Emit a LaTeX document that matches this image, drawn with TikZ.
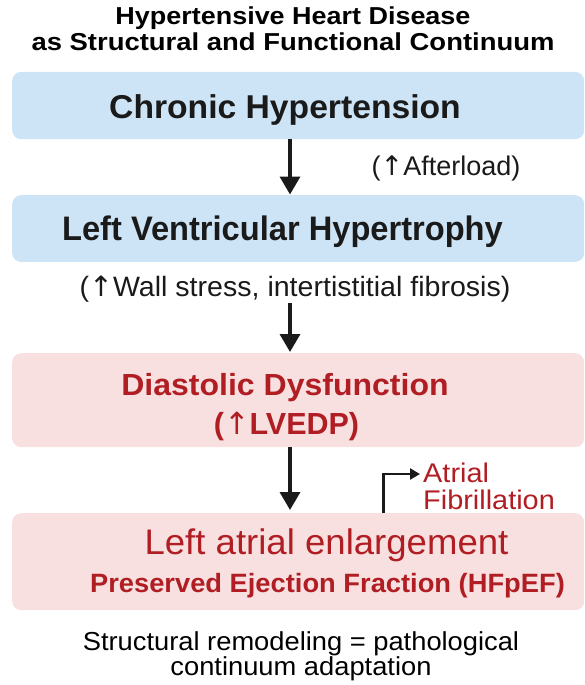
\documentclass[tikz,border=0pt]{standalone}
\usepackage{fontspec}
\setmainfont{Liberation Sans}
\newfontfamily\symfont{DejaVu Sans}
\usetikzlibrary{arrows.meta}
\definecolor{boxblue}{HTML}{CDE4F6}
\definecolor{boxpink}{HTML}{F9E0E0}
\definecolor{darkred}{HTML}{B01E24}
\definecolor{txtdark}{HTML}{1A1A1A}
\newcommand{\fs}[1]{\fontsize{#1pt}{#1pt}\selectfont}
\newcommand{\uarr}{{\symfont\mdseries\char"2191}}
\newcommand{\sx}[2]{\scalebox{#1}[1]{#2}}
\tikzset{
  x=1pt, y=-1pt,
  boxbase/.style={rounded corners=9pt, minimum width=572pt, inner sep=0pt, anchor=north west},
  bluebox/.style={boxbase, fill=boxblue},
  pinkbox/.style={boxbase, fill=boxpink},
  flow/.style={-{Triangle[length=18pt,width=20pt]}, line width=3.5pt, draw=txtdark},
  sideflow/.style={-{Triangle[length=10pt,width=11pt]}, line width=2.7pt, draw=txtdark},
  lbl/.style={inner sep=0pt, anchor=base, text=txtdark},
  redlbl/.style={lbl, text=darkred},
}
\begin{document}
\begin{tikzpicture}
\useasboundingbox (0,0) rectangle (585,685);
% title
\node[lbl, font=\bfseries\fs{24.5}, text=black] (title1) at (293,24.5) {\sx{1.1}{Hypertensive Heart Disease}};
\node[lbl, font=\bfseries\fs{24.5}, text=black] (title2) at (293,50.5) {\sx{1.12}{as Structural and Functional Continuum}};
% boxes
\node[bluebox, minimum height=67.3pt] (b1) at (12,71.7) {};
\node[lbl, font=\bfseries\fs{33}] (t1) at (285,118) {\sx{1.02}{Chronic Hypertension}};
\node[bluebox, minimum height=66.7pt] (b2) at (12,195) {};
\node[lbl, font=\bfseries\fs{34}] (t2) at (282.5,240) {\sx{0.96}{Left Ventricular Hypertrophy}};
\node[pinkbox, minimum height=94pt] (b3) at (12,353) {};
\node[redlbl, font=\bfseries\fs{30.5}] (t3) at (285,395) {\sx{1.05}{Diastolic Dysfunction}};
\node[redlbl, font=\bfseries\fs{30.5}] (t3b) at (286.5,434) {(\uarr LVEDP)};
\node[pinkbox, minimum height=97pt] (b4) at (12,513) {};
\node[redlbl, font=\fs{35.5}] (t4) at (326.5,554) {\sx{1.03}{Left atrial enlargement}};
\node[redlbl, font=\bfseries\fs{26.5}] (t5) at (327.5,592.3) {\sx{1.03}{Preserved Ejection Fraction (HFpEF)}};
% annotations
\node[lbl, font=\fs{27}] (a1) at (446,175) {(\uarr Afterload)};
\node[lbl, font=\fs{28}] (a2) at (295,296) {\sx{1.02}{(\uarr Wall stress, intertistitial fibrosis)}};
\node[redlbl, font=\fs{27}, anchor=base west] (af1) at (423,482.5) {\sx{1.07}{Atrial}};
\node[redlbl, font=\fs{27}, anchor=base west] (af2) at (423,509) {\sx{1.07}{Fibrillation}};
\node[lbl, font=\fs{26}, text=black] (foot1) at (301,650) {\sx{1.05}{Structural remodeling = pathological}};
\node[lbl, font=\fs{26}, text=black] (foot2) at (301,675) {\sx{1.05}{continuum adaptation}};
% connectors
\draw[flow] (b1.south -| 290,0) -- ([yshift=0.5pt]b2.north -| 290,0);
\draw[flow] (290,303) -- ([yshift=1pt]b3.north -| 290,0);
\draw[flow] (b3.south -| 290,0) -- ([yshift=3pt]b4.north -| 290,0);
\coordinate (elb) at (383.3,474);
\draw[sideflow] (b4.north -| elb) -- (elb) -- (420,474);
\end{tikzpicture}
\end{document}
